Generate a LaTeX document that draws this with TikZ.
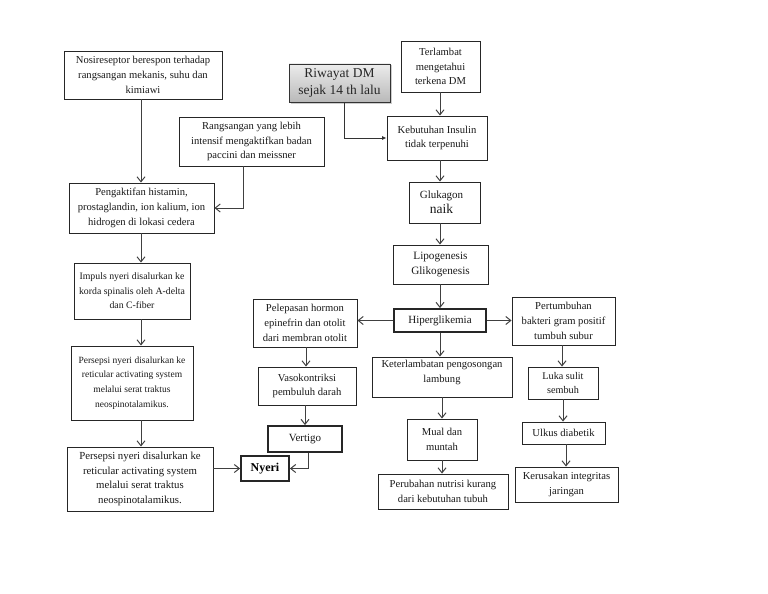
\documentclass[tikz,border=0pt]{standalone}
\usepackage{fontspec}
\setmainfont{Liberation Serif}
\usetikzlibrary{arrows.meta,shadows,calc}
\begin{document}
\begin{tikzpicture}[x=1pt,y=-1pt,
  box/.style={draw=black!85,line width=0.9pt,inner sep=0pt,align=center,text=black!90,
    font=\fontsize{10.6}{14.8}\selectfont},
  thick box/.style={box,line width=1.8pt},
  arr/.style={draw=black!75,line width=1pt,-{Straight Barb[length=5pt,width=8pt]}},
]
\useasboundingbox (0,0) rectangle (768,594);
\fill[white] (0,0) rectangle (768,594);
% left column
\node[box,minimum width=158pt,minimum height=48pt] (nosi) at (143,75) {Nosireseptor berespon terhadap\\rangsangan mekanis, suhu dan\\kimiawi};
\node[box,minimum width=145pt,minimum height=49pt] (rang) at (251.5,141.5) {Rangsangan yang lebih\\intensif mengaktifkan badan\\paccini dan meissner};
\node[box,minimum width=145pt,minimum height=50pt] (peng) at (141.5,208) {Pengaktifan histamin,\\prostaglandin, ion kalium, ion\\hidrogen di lokasi cedera};
\node[box,minimum width=116pt,minimum height=56pt,font=\fontsize{9.8}{14.5}\selectfont] (imp) at (132,291) {Impuls nyeri disalurkan ke\\korda spinalis oleh A-delta\\dan C-fiber};
\node[box,minimum width=122pt,minimum height=74pt,font=\fontsize{9.5}{14.7}\selectfont] (pers1) at (132,383) {Persepsi nyeri disalurkan ke\\reticular activating system\\melalui serat traktus\\neospinotalamikus.};
\node[box,minimum width=146pt,minimum height=64pt,font=\fontsize{10.8}{14.5}\selectfont] (pers2) at (140,479) {Persepsi nyeri disalurkan ke\\reticular activating system\\melalui serat traktus\\neospinotalamikus.};
\node[thick box,minimum width=48pt,minimum height=25pt,font=\fontsize{12}{14}\selectfont\bfseries,text=black] (nyeri) at (265,468.5) {Nyeri};
% middle-left column
\node[box,minimum width=104pt,minimum height=48pt] (pele) at (305,323) {Pelepasan hormon\\epinefrin dan otolit\\dari membran otolit};
\node[box,minimum width=98pt,minimum height=38pt] (vaso) at (307,386) {Vasokontriksi\\pembuluh darah};
\node[thick box,minimum width=74pt,minimum height=26pt,font=\fontsize{11}{14}\selectfont] (vert) at (305,439) {Vertigo};
% top middle
\node[box,minimum width=101pt,minimum height=38pt,draw=black!80,
  top color=gray!15,bottom color=gray!55,drop shadow={shadow xshift=1.5pt,shadow yshift=-1.5pt,opacity=0.4},
  font=\fontsize{13.5}{17}\selectfont,text=black!85] (riw) at (339.5,83) {Riwayat DM\\sejak 14 th lalu};
\node[box,minimum width=79pt,minimum height=51pt] (terl) at (440.5,66.5) {Terlambat\\mengetahui\\terkena DM};
\node[box,minimum width=100pt,minimum height=44pt] (kebu) at (437,138) {Kebutuhan Insulin\\tidak terpenuhi};
\node[box,minimum width=71pt,minimum height=41pt,font=\fontsize{11}{14}\selectfont] (gluk) at (444.5,202.5) {Glukagon\hspace*{6pt}\\[1pt]{\fontsize{13.5}{15}\selectfont naik}\hspace*{6pt}};
\node[box,minimum width=95pt,minimum height=39pt,font=\fontsize{11.2}{15}\selectfont] (lipo) at (440.5,264.5) {Lipogenesis\\Glikogenesis};
\node[thick box,minimum width=92pt,minimum height=23pt,font=\fontsize{11}{14}\selectfont] (hiper) at (440,320.5) {Hiperglikemia};
\node[box,minimum width=140pt,minimum height=40pt] (ketr) at (442,377) {Keterlambatan pengosongan\\lambung\\[-3pt]};
\node[box,minimum width=70pt,minimum height=41pt] (mual) at (442,439.5) {Mual dan\\muntah};
\node[box,minimum width=130pt,minimum height=35pt] (perub) at (443,491.5) {Perubahan nutrisi kurang\\dari kebutuhan tubuh};
% right column
\node[box,minimum width=103pt,minimum height=48pt] (pert) at (563.5,321) {Pertumbuhan\\bakteri gram positif\\tumbuh subur};
\node[box,minimum width=70pt,minimum height=32pt,font=\fontsize{10.2}{14.5}\selectfont] (luka) at (563,383) {Luka sulit\\sembuh};
\node[box,minimum width=83pt,minimum height=22pt] (ulkus) at (563.5,433) {Ulkus diabetik};
\node[box,minimum width=103pt,minimum height=35pt] (keru) at (566.5,484.5) {Kerusakan integritas\\jaringan};
% connectors left
\draw[arr] (nosi.south -| 141,0) -- (peng.north -| 141,0);
\draw[arr] (rang.south -| 243,0) |- (peng.east);
\draw[arr] (peng.south -| 141,0) -- (imp.north -| 141,0);
\draw[arr] (imp.south -| 141,0) -- (pers1.north -| 141,0);
\draw[arr] (pers1.south -| 141,0) -- (pers2.north -| 141,0);
\draw[arr] (pers2.east |- nyeri.west) -- (nyeri.west);
\draw[arr] (vert.south -| 308,0) |- (nyeri.east);
\draw[arr] (pele.south -| 306,0) -- (vaso.north -| 306,0);
\draw[arr] (vaso.south -| 305,0) -- (vert.north -| 305,0);
% connectors middle
\draw[draw=black!80,line width=1pt,-{Latex[length=4.5pt,width=4pt]}] (riw.south -| 344,0) |- (kebu.west);
\draw[arr] (terl.south -| 440,0) -- (kebu.north -| 440,0);
\draw[arr] (kebu.south -| 440,0) -- (gluk.north -| 440,0);
\draw[arr] (gluk.south -| 440,0) -- (lipo.north -| 440,0);
\draw[arr] (lipo.south -| 440,0) -- (hiper.north -| 440,0);
\draw[arr] (hiper.west) -- (pele.east |- hiper.west);
\draw[arr] (hiper.east) -- (pert.west |- hiper.east);
\draw[arr] (hiper.south -| 440,0) -- (ketr.north -| 440,0);
\draw[arr] (ketr.south -| 442,0) -- (mual.north -| 442,0);
\draw[arr] (mual.south -| 442,0) -- (perub.north -| 442,0);
% connectors right
\draw[arr] (pert.south -| 562,0) -- (luka.north -| 562,0);
\draw[arr] (luka.south -| 563,0) -- (ulkus.north -| 563,0);
\draw[arr] (ulkus.south -| 566,0) -- (keru.north -| 566,0);
\end{tikzpicture}
\end{document}
